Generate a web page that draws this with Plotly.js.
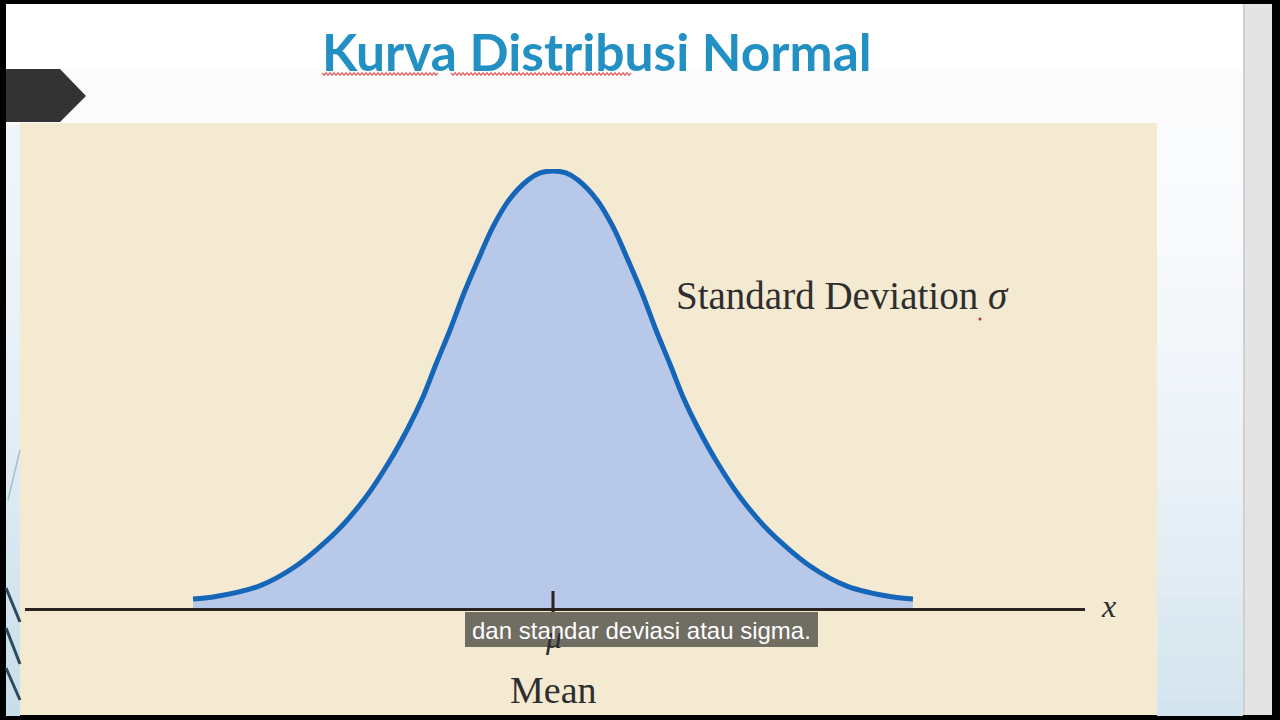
<!DOCTYPE html>
<html>
<head>
<meta charset="utf-8">
<script src="https://cdn.plot.ly/plotly-3.0.1.min.js"></script>
<style>html,body{margin:0;padding:0;background:#000;}#chart{width:1280px;height:720px;}</style>
</head>
<body>
<div id="chart"></div>
<script>
// Values: curve height above the x axis at offsets from the mean (symmetric bell)
var xRight = [0, 0.098, 0.189, 0.333, 0.455, 0.568, 0.674, 0.780, 0.886, 0.985, 1.098, 1.242, 1.417, 1.644, 1.947, 2.227, 2.576, 2.727];
var yRight = [0.3982, 0.3964, 0.3900, 0.3718, 0.3472, 0.3171, 0.2870, 0.2533, 0.2223, 0.1923, 0.1640, 0.1330, 0.1011, 0.0692, 0.0383, 0.0200, 0.0100, 0.0082];
var meanValue = 0;
var titleText = "Kurva Distribusi Normal";
var sdLabel = "Standard Deviation <i>σ</i>";
var meanSymbol = "μ";
var meanLabel = "Mean";
var axisLabel = "x";
var subtitleText = "dan standar deviasi atau sigma.";

// full curve (mirror of the read right half around the mean)
var curveX = [], curveY = [];
for (var i = xRight.length - 1; i > 0; i--) { curveX.push(meanValue - xRight[i]); curveY.push(yRight[i]); }
for (var j = 0; j < xRight.length; j++) { curveX.push(meanValue + xRight[j]); curveY.push(yRight[j]); }

// pixel -> paper helpers (plot area: x 25..1085, y 169..608)
var L = 25, R = 1085, T = 169, B = 608, PX_PER_UNIT = 132, MEAN_PX = 553;
function px(x){ return (x - L) / (R - L); }
function py(y){ return (B - y) / (B - T); }
function rectPx(x0,y0,x1,y1,fill,layer){
  return {type:'rect', xref:'paper', yref:'paper', x0:px(x0), x1:px(x1), y0:py(y1), y1:py(y0),
    fillcolor:fill, line:{width:0}, layer:layer||'below'};
}
function pathPx(pts, close){
  var d = '';
  pts.forEach(function(p,i){ d += (i? ' L ' : 'M ') + px(p[0]).toFixed(5) + ',' + py(p[1]).toFixed(5); });
  if (close) d += ' Z';
  return d;
}
function zigzag(x0, x1, y){
  var pts = [], up = true;
  for (var x = x0; x <= x1; x += 2){ pts.push([x, y + (up ? -1.2 : 1.2)]); up = !up; }
  return pts;
}
function mix(c1, c2, t){
  var r = Math.round(c1[0] + (c2[0]-c1[0])*t), g = Math.round(c1[1] + (c2[1]-c1[1])*t), b = Math.round(c1[2] + (c2[2]-c1[2])*t);
  return 'rgb(' + r + ',' + g + ',' + b + ')';
}

var shapes = [
  rectPx(6,4,1243,715,'#ffffff'),
  rectPx(6,69,1243,125,'#fbfbfc')
];
// soft vertical gradients (slide background on the right and left edges)
var N = 40;
for (var k = 0; k < N; k++) {
  var y0 = 125 + (715-125)*k/N, y1 = 125 + (715-125)*(k+1)/N + 1;
  var t = Math.pow(k/(N-1), 1.6);
  shapes.push(rectPx(1157, y0, 1243, y1, mix([250,251,253],[212,228,238], t)));
  shapes.push(rectPx(6, y0, 20, y1, mix([240,245,250],[200,222,234], t)));
}
shapes = shapes.concat([
  rectPx(1243,4,1272,715,'#e4e4e4'),
  {type:'line', xref:'paper', yref:'paper', x0:px(1244), x1:px(1244), y0:py(715), y1:py(4), line:{color:'#d0d0d0', width:2}, layer:'below'},
  rectPx(20,123,1157,715,'#f4e9d1'),
  {type:'path', xref:'paper', yref:'paper', path: pathPx([[6,69],[60,69],[86,96],[60,122],[6,122]], true), fillcolor:'#333333', line:{width:0}, layer:'below'},
  // decorative stripes at left edge
  {type:'line', xref:'paper', yref:'paper', x0:px(6), y0:py(588), x1:px(20), y1:py(622), line:{color:'#2d4a5a', width:3}, layer:'below'},
  {type:'line', xref:'paper', yref:'paper', x0:px(6), y0:py(628), x1:px(20), y1:py(664), line:{color:'#2d4a5a', width:3}, layer:'below'},
  {type:'line', xref:'paper', yref:'paper', x0:px(6), y0:py(668), x1:px(20), y1:py(700), line:{color:'#2d4a5a', width:3}, layer:'below'},
  {type:'line', xref:'paper', yref:'paper', x0:px(8), y0:py(500), x1:px(20), y1:py(450), line:{color:'#a9bfcc', width:1.5}, layer:'below'},
  // spell-check squiggles under title
  {type:'path', xref:'paper', yref:'paper', path: pathPx(zigzag(322,438,74)), line:{color:'#e06060', width:1.2}, layer:'below'},
  {type:'path', xref:'paper', yref:'paper', path: pathPx(zigzag(451,632,74)), line:{color:'#e06060', width:1.2}, layer:'below'},
  // tick at the mean
  {type:'line', xref:'x', yref:'paper', x0:meanValue, x1:meanValue, y0:py(612), y1:py(591), line:{color:'#2a2320', width:3}, layer:'above'},
  // subtitle box
  rectPx(465,612,818,647,'rgba(98,95,86,0.9)','above'),
  // small red dot
  {type:'circle', xref:'paper', yref:'paper', x0:px(978.5), x1:px(981.5), y0:py(320.5), y1:py(317.5), fillcolor:'#c03030', line:{width:0}, layer:'above'}
]);

var trace = {
  type:'scatter', mode:'lines', x:curveX, y:curveY,
  line:{color:'#1565b8', width:5, shape:'spline', smoothing:0.8},
  fill:'tozeroy', fillcolor:'#b8c8e8', hoverinfo:'skip'
};

var annotations = [
  {xref:'paper', yref:'paper', x:px(597), y:py(51), text:'<b>'+titleText+'</b>', showarrow:false,
    font:{family:'Lato, sans-serif', size:51.5, color:'#2390c3'}, xanchor:'center', yanchor:'middle'},
  {xref:'paper', yref:'paper', x:px(674), y:py(295), text:sdLabel, showarrow:false,
    font:{family:'Liberation Serif, serif', size:39, color:'#2e2e2e'}, xanchor:'left', yanchor:'middle'},
  {xref:'paper', yref:'paper', x:px(1108), y:py(606), text:'<i>'+axisLabel+'</i>', showarrow:false,
    font:{family:'Liberation Serif, serif', size:32, color:'#2e2e2e'}, xanchor:'center', yanchor:'middle'},
  {xref:'x', yref:'paper', x:meanValue, y:py(637), text:'<i>'+meanSymbol+'</i>', showarrow:false,
    font:{family:'Liberation Serif, serif', size:32, color:'#2e2e2e'}, xanchor:'center', yanchor:'middle'},
  {xref:'x', yref:'paper', x:meanValue, y:py(690), text:meanLabel, showarrow:false,
    font:{family:'Liberation Serif, serif', size:38, color:'#2e2e2e'}, xanchor:'center', yanchor:'middle'},
  {xref:'paper', yref:'paper', x:px(641.5), y:py(630), text:subtitleText, showarrow:false,
    font:{family:'Liberation Sans, Arial, sans-serif', size:24, color:'#ffffff'}, xanchor:'center', yanchor:'middle'}
];

var layout = {
  width:1280, height:720,
  margin:{l:L, r:1280-R, t:T, b:720-B, pad:0},
  paper_bgcolor:'#000000', plot_bgcolor:'rgba(0,0,0,0)',
  showlegend:false,
  xaxis:{range:[(L-MEAN_PX)/PX_PER_UNIT, (R-MEAN_PX)/PX_PER_UNIT], showgrid:false, zeroline:false, showticklabels:false, ticks:'',
    showline:true, linecolor:'#2a2320', linewidth:3, fixedrange:true},
  yaxis:{range:[0,0.4], showgrid:false, zeroline:false, showticklabels:false, ticks:'', showline:false, fixedrange:true},
  shapes:shapes,
  annotations:annotations
};

Plotly.newPlot('chart', [trace], layout, {displayModeBar:false, staticPlot:true});
</script>
</body>
</html>
